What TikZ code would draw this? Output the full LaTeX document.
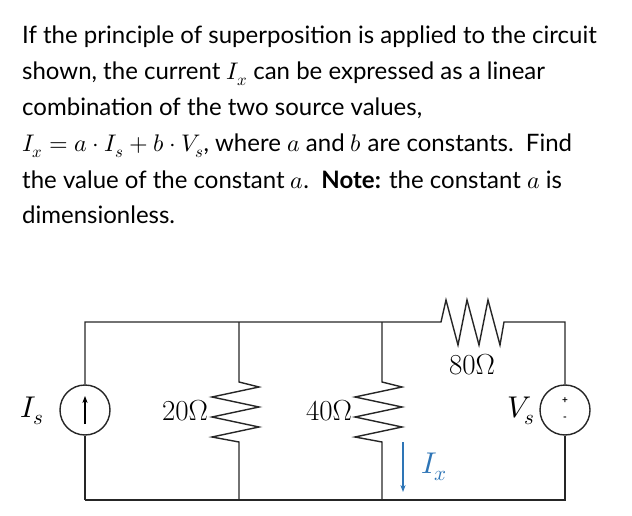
\documentclass[tikz,border=0pt]{standalone}
\usetikzlibrary{arrows.meta}
\usepackage{fontspec}
\setmainfont{Lato}
\usepackage{unicode-math}
\setmathfont{Latin Modern Math}
\newfontfamily\cmr{Latin Modern Roman}
\begin{document}
\begin{tikzpicture}[x=1pt,y=-1pt,
  txt/.style={anchor=base west,inner sep=0pt,font=\fontsize{24}{28}\selectfont},
  lbl/.style={inner sep=0pt,font=\cmr\fontsize{29}{32}\selectfont},
  wire/.style={line width=1.4pt,black!85}]
\useasboundingbox (0,0) rectangle (632,516);
\node[txt] (l1) at (22,44) {If the principle of superposition is applied to the circuit};
\node[txt] (l2) at (22,80) {shown, the current $I_x$ can be expressed as a linear};
\node[txt] (l3) at (22,116) {combination of the two source values,};
\node[txt] (l4) at (22,152) {$I_x=a\cdot I_s+b\cdot V_s$, where $a$ and $b$ are constants.\ \ Find};
\node[txt] (l5) at (22,188) {the value of the constant $a$.\ \ \textbf{Note:} the constant $a$ is};
\node[txt] (l6) at (22,223) {dimensionless.};
% circuit
\coordinate (tl) at (85,322); \coordinate (bl) at (85,500);
\coordinate (t2) at (239,322); \coordinate (b2) at (239,500);
\coordinate (t4) at (382,322); \coordinate (b4) at (382,500);
\coordinate (tr) at (565,322); \coordinate (br) at (565,500);
\node[draw,wire,circle,inner sep=0pt,minimum size=50pt] (is) at (85,410) {};
\node[draw,wire,circle,inner sep=0pt,minimum size=50pt] (vs) at (565,410) {};
\draw[wire] (bl) -- (is.south); \draw[wire] (is.north) -- (tl) -- (t4) -- (441,322)
  -- (446,300) -- (458,345) -- (467,300) -- (479,345) -- (488,300) -- (500,345) -- (504,322) -- (tr) -- (vs.north);
\draw[wire] (vs.south) -- (br) -- (bl);
\draw[wire] (t2) -- (239,382) -- (259,387) -- (212,397) -- (259,407) -- (212,417) -- (259,427) -- (212,437) -- (239,442) -- (b2);
\draw[wire] (t4) -- (382,382) -- (402,387) -- (355,397) -- (402,407) -- (355,417) -- (402,427) -- (355,437) -- (382,442) -- (b4);
\draw[line width=1.4pt,-{Stealth[length=7pt]}] ([yshift=-14pt]is.center) -- ([yshift=14pt]is.center);
\node[font=\bfseries\fontsize{10}{10}\selectfont] (pl) at ([yshift=9pt]vs.center) {+};
\node[font=\bfseries\fontsize{10}{10}\selectfont] (mi) at ([yshift=-9pt]vs.center) {-};
\node[lbl] (lr20) at (185,411) {20Ω};
\node[lbl] (lr40) at (329,411) {40Ω};
\node[lbl] (lr80) at (472,365) {80Ω};
\node[inner sep=0pt,font=\fontsize{30}{32}\selectfont] (lis) at (32,411) {$I_s$};
\node[inner sep=0pt,font=\fontsize{30}{32}\selectfont] (lvs) at (521,411) {$V_s$};
\coordinate (ixa) at (403,442); \coordinate (ixb) at (403,492);
\draw[line width=1.2pt,color={rgb,255:red,46;green,117;blue,182},-{Stealth[length=7pt]}] (ixa) -- (ixb);
\node[inner sep=0pt,text={rgb,255:red,46;green,117;blue,182},font=\fontsize{30}{32}\selectfont] (lix) at (434,467) {$I_x$};
\end{tikzpicture}
\end{document}
